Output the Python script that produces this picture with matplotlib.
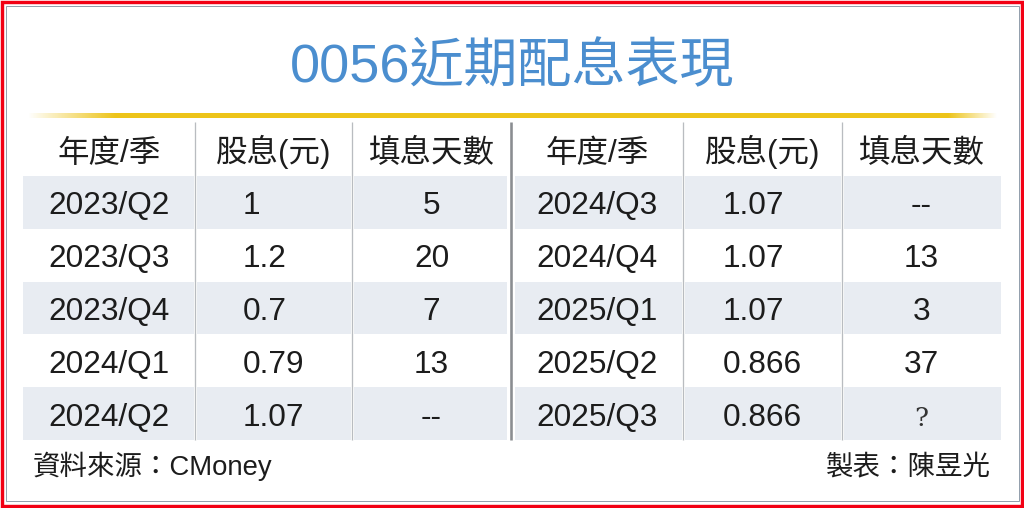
import numpy as np
import matplotlib
matplotlib.use("Agg")
import matplotlib.pyplot as plt
from matplotlib.patches import Rectangle

# table data
title = "0056近期配息表現"
headers = ["年度/季", "股息(元)", "填息天數"]
left_periods = ["2023/Q2", "2023/Q3", "2023/Q4", "2024/Q1", "2024/Q2"]
left_dividends = ["1", "1.2", "0.7", "0.79", "1.07"]
left_days = ["5", "20", "7", "13", "--"]
right_periods = ["2024/Q3", "2024/Q4", "2025/Q1", "2025/Q2", "2025/Q3"]
right_dividends = ["1.07", "1.07", "1.07", "0.866", "0.866"]
right_days = ["--", "13", "3", "37", "?"]
source = "資料來源：CMoney"
maker = "製表：陳昱光"

FAM = ["Liberation Sans", "Noto Sans CJK TC", "DejaVu Sans"]
TXT = "#1c1c1c"
BAND = "#e8ecf2"

W, H = 1024, 508
fig = plt.figure(figsize=(W / 100, H / 100), dpi=100)
ax = fig.add_axes([0, 0, 1, 1])
ax.set_xlim(0, W)
ax.set_ylim(H, 0)
ax.axis("off")

def pt(px):
    return px * 72 / 100

# frames
ax.add_patch(Rectangle((1.6, 1.6), W - 3.2, H - 3.2, fill=False, ec="#f20014", lw=pt(3.4)))
ax.add_patch(Rectangle((6, 6), W - 11.5, H - 13, fill=False, ec="#94a0ad", lw=pt(1)))

# title
ax.text(W / 2, 82, title, ha="center", va="baseline", fontsize=pt(54),
        color="#4b8ecf", family=FAM)

# yellow gradient rule
x0, x1 = 27, 998
n = 400
xs = np.linspace(0, 1, n)
alpha = np.clip(np.minimum(xs / 0.09, (1 - xs) / 0.05), 0, 1)
grad = np.zeros((1, n, 4))
grad[..., 0] = 0.93
grad[..., 1] = 0.77
grad[..., 2] = 0.10
grad[..., 3] = alpha
ax.imshow(grad, extent=(x0, x1, 118, 113), aspect="auto", interpolation="bilinear", zorder=2)
ax.set_xlim(0, W)
ax.set_ylim(H, 0)

# layout
row_top = 176
row_h = 52.8
n_rows = len(left_periods)
left_edge, right_edge = 22.5, 1001
seps = [195, 352, 511, 683, 842]
mid = 511

# banded rows
for i in range(n_rows):
    if i % 2 == 0:
        y = row_top + i * row_h
        ax.add_patch(Rectangle((left_edge, y), mid - 4 - left_edge, row_h, fc=BAND, ec="none", zorder=1))
        ax.add_patch(Rectangle((mid + 4, y), right_edge - mid - 4, row_h, fc=BAND, ec="none", zorder=1))

table_bottom = row_top + n_rows * row_h
for s in seps:
    if s == mid:
        ax.plot([s, s], [122, table_bottom], color="white", lw=pt(7), zorder=3, solid_capstyle="butt")
        ax.plot([s, s], [122, table_bottom], color="#8a8d91", lw=pt(2.6), zorder=4, solid_capstyle="butt")
    else:
        ax.plot([s, s], [122, table_bottom], color="white", lw=pt(3), zorder=3, solid_capstyle="butt")
        ax.plot([s, s], [122, table_bottom], color="#b9bcc0", lw=pt(1.3), zorder=4, solid_capstyle="butt")

FS = pt(31.5)

def draw_block(xl, xr, cols_x, div_x, periods, divs, days):
    c1 = (xl + cols_x[0]) / 2
    c2 = (cols_x[0] + cols_x[1]) / 2
    c3 = (cols_x[1] + xr) / 2
    for h, cx in zip(headers, [c1, c2, c3]):
        ax.text(cx, 162, h, ha="center", va="baseline", fontsize=FS, color=TXT, family=FAM, zorder=5)
    for i in range(len(periods)):
        base = row_top + i * row_h + row_h / 2 + 12
        ax.text(c1, base, periods[i], ha="center", va="baseline", fontsize=FS, color=TXT, family=FAM, zorder=5)
        ax.text(div_x, base, divs[i], ha="left", va="baseline", fontsize=FS, color=TXT, family=FAM, zorder=5)
        if days[i] == "?":
            ax.text(c3, base, days[i], ha="center", va="baseline", fontsize=pt(26), color="#333333",
                    family=["DejaVu Serif"], fontweight="light", zorder=5)
        else:
            ax.text(c3, base, days[i], ha="center", va="baseline", fontsize=FS, color=TXT, family=FAM, zorder=5)

draw_block(left_edge, mid, seps[0:2], 243, left_periods, left_dividends, left_days)
draw_block(mid, right_edge, seps[3:5], 723, right_periods, right_dividends, right_days)

# footer
ax.text(33, 475, source, ha="left", va="baseline", fontsize=pt(27.5), color=TXT, family=FAM)
ax.text(991, 475, maker, ha="right", va="baseline", fontsize=pt(27.5), color=TXT, family=FAM)

fig.savefig("out.png", dpi=100)
